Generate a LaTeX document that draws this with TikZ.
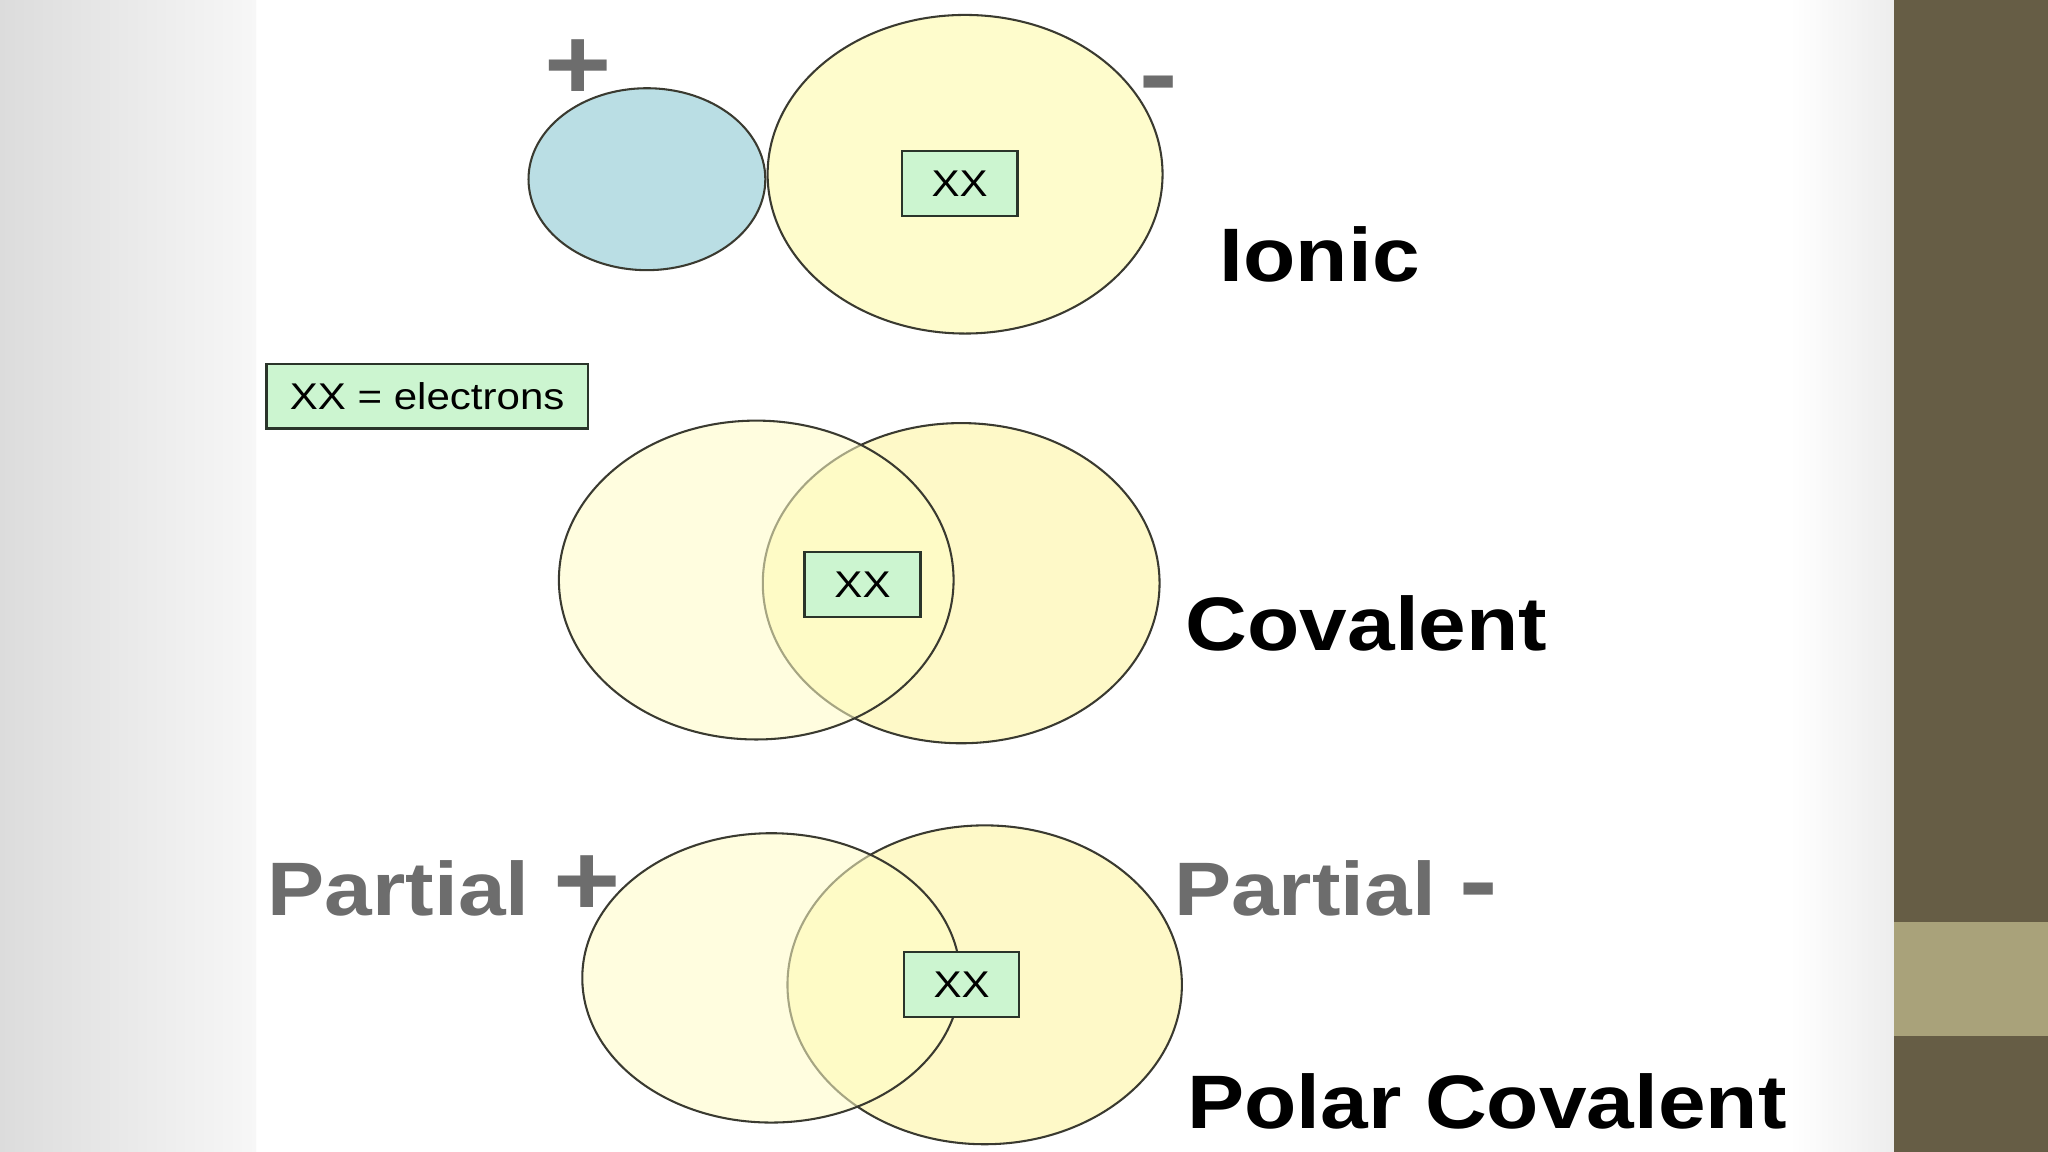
\documentclass[tikz,border=0pt]{standalone}
\usepackage{fontspec}
\setmainfont{Liberation Sans}
\newfontfamily\slidefont[FakeStretch=1.13]{Liberation Sans}
\usetikzlibrary{shapes.geometric}
\definecolor{leftgray}{HTML}{DCDCDC}
\definecolor{leftgraylight}{HTML}{F7F7F7}
\definecolor{rightgray}{HTML}{EDEDED}
\definecolor{barbrown}{HTML}{665D45}
\definecolor{bartan}{HTML}{A9A27A}
\definecolor{ionblue}{HTML}{BADEE4}
\definecolor{yellowA}{HTML}{FEFCCC}
\definecolor{yellowB}{HTML}{FEF9C8}
\definecolor{yellowL}{HTML}{FFFDC6}
\definecolor{boxgreen}{HTML}{CCF5D0}
\definecolor{outline}{HTML}{3A3A30}
\definecolor{boxline}{HTML}{2A342A}
\definecolor{signgray}{HTML}{6D6D6D}
\begin{document}
\begin{tikzpicture}[x=0.01cm,y=-0.01cm,
  atom/.style={ellipse, draw=outline, line width=0.45pt, inner sep=0pt},
  ebox/.style={rectangle, draw=boxline, fill=boxgreen, line width=0.5pt, inner sep=0pt,
    font=\slidefont\fontsize{8.1}{9.7}\selectfont, text=black},
  bondlabel/.style={anchor=base, inner sep=0pt,
    font=\slidefont\bfseries\fontsize{16.5}{19.8}\selectfont, text=black},
  signtext/.style={anchor=base, inner sep=0pt,
    font=\slidefont\bfseries\fontsize{22.2}{26}\selectfont, text=signgray},
  partial/.style={anchor=base west, inner sep=0pt,
    font=\slidefont\bfseries\fontsize{16.5}{19.8}\selectfont, text=signgray}]
\useasboundingbox (0,0) rectangle (1568,882);
% background
\fill[white] (0,0) rectangle (1568,882);
\shade[left color=leftgray, right color=leftgraylight] (0,0) rectangle (196,882);
\shade[left color=white, right color=rightgray] (1370,0) rectangle (1450,882);
\fill[barbrown] (1450,0) rectangle (1568,882);
\fill[bartan] (1450,706) rectangle (1568,793);
% Ionic
\node[atom, fill=ionblue, minimum width=1.812cm, minimum height=1.392cm] (cation) at (495.3,137.2) {};
\node[atom, fill=yellowA, minimum width=3.022cm, minimum height=2.438cm] (anion) at (738.9,133.4) {};
\node[ebox, minimum width=0.886cm, minimum height=0.5cm] (ionxx) at (734.7,140.4) {XX};
\node[signtext] (ionplus) at (442.6,76.5) {+};
\node[signtext] (ionminus) at (887.2,82.9) {-};
\node[bondlabel] (ionic) at (1010.4,215.7) {Ionic};
% legend
\node[ebox, minimum width=2.459cm, minimum height=0.493cm] (legend) at (327.05,303.35) {XX = electrons};
% Covalent
\node[atom, fill=yellowB, minimum width=3.036cm, minimum height=2.45cm] (covR) at (735.9,446.5) {};
\node[atom, fill=yellowL, fill opacity=0.55, minimum width=3.02cm, minimum height=2.44cm] (covL) at (579,444.1) {};
\node[ebox, minimum width=0.887cm, minimum height=0.496cm] (covxx) at (660.35,447.4) {XX};
\node[bondlabel] (covalent) at (1046.2,498.4) {Covalent};
% Polar covalent
\node[atom, fill=yellowB, minimum width=3.018cm, minimum height=2.44cm] (polR) at (753.9,754) {};
\node[atom, fill=yellowL, fill opacity=0.55, minimum width=2.892cm, minimum height=2.214cm] (polL) at (590.5,748.7) {};
\node[ebox, minimum width=0.88cm, minimum height=0.495cm] (polxx) at (736.3,753.8) {XX};
\node[partial] (pplus) at (204.2,700.6) {Partial {\fontsize{22.2}{26}\selectfont +}};
\node[partial] (pminus) at (898.2,700.6) {Partial {\fontsize{22.2}{26}\selectfont -}};
\node[bondlabel] (polar) at (1138.5,863.8) {Polar Covalent};
\end{tikzpicture}
\end{document}
